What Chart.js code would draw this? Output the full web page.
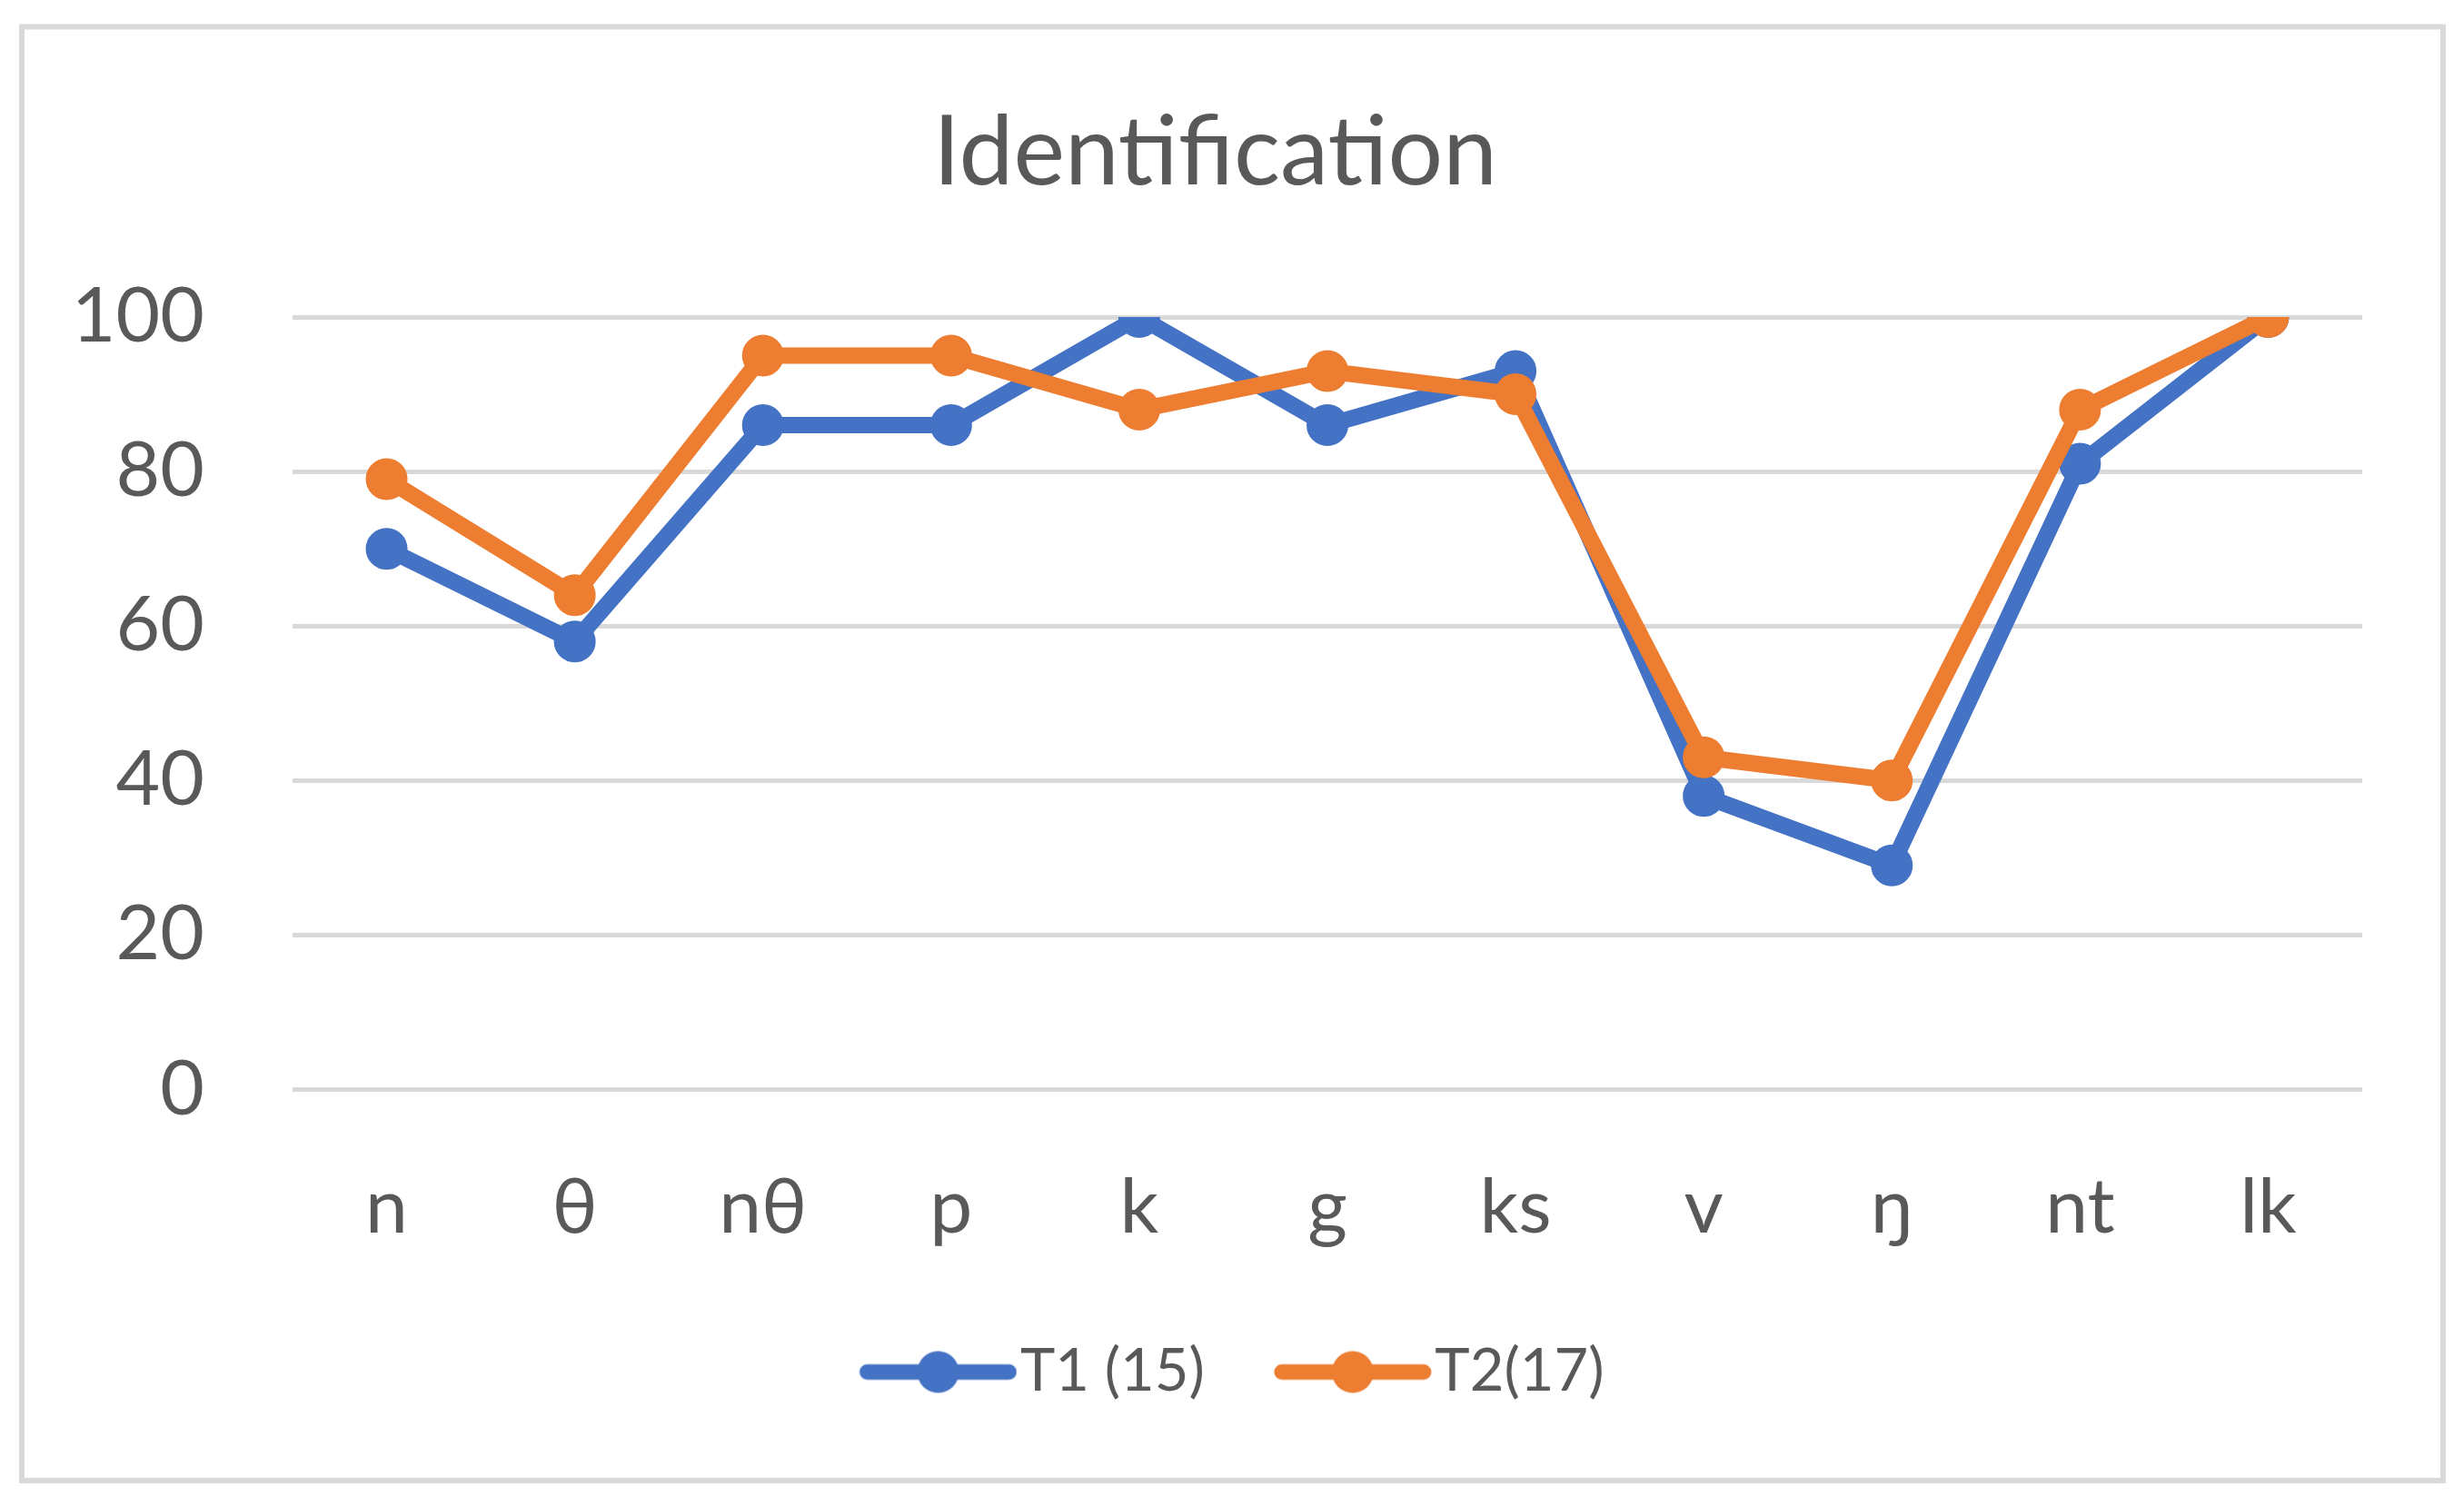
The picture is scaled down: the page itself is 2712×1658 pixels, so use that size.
<!DOCTYPE html>
<html lang="en">
<head>
    <meta charset="UTF-8">
    <script src="https://cdn.jsdelivr.net/npm/chart.js@4"></script>
    <title>Identification</title>
    <style>
        html, body { margin: 0; padding: 0; background: #fff; }
        #wrap { width: 2712px; height: 1658px; position: relative; }
    </style>
</head>
<body>
    <div id="wrap"><canvas id="chart"></canvas></div>

    <script>
        // data
        const categories = ['n', 'θ', 'nθ', 'p', 'k', 'g', 'ks', 'v', 'ŋ', 'nt', 'lk'];
        const t1Values = [70, 58, 86, 86, 100, 86, 93, 38, 29, 81, 100];
        const t2Values = [79, 64, 95, 95, 88, 93, 90, 43, 40, 88, 100];
        const seriesNames = ['T1 (15)', 'T2(17)'];
        const seriesColors = ['#4472C4', '#ED7D31'];
        const yTicks = [0, 20, 40, 60, 80, 100];

        const FONT = 'Lato, "Noto Sans", "DejaVu Sans", sans-serif';
        const TEXT = '#595959';
        const GRID = '#d9d9d9';

        const legendFont = 65;
        const iconW = 174;
        const shiftE = 65;   // blank room left of the key, nudges the legend right

        // excel-like legend key: thick line with a dot in the middle
        function lineIcon(color) {
            const c = document.createElement('canvas');
            c.width = iconW + shiftE;
            c.height = 50;
            const g = c.getContext('2d');
            g.translate(shiftE, 0);
            g.strokeStyle = color;
            g.lineWidth = 17;
            g.lineCap = 'round';
            g.beginPath();
            g.moveTo(9, 25);
            g.lineTo(iconW - 9, 25);
            g.stroke();
            g.fillStyle = color;
            g.beginPath();
            g.arc(iconW / 2, 25, 23, 0, Math.PI * 2);
            g.fill();
            return c;
        }
        const icons = seriesColors.map(lineIcon);

        const frame = {
            id: 'frame',
            beforeDraw(chart) {
                const ctx = chart.ctx;
                ctx.save();
                ctx.fillStyle = '#fff';
                ctx.fillRect(0, 0, chart.width, chart.height);
                ctx.strokeStyle = GRID;
                ctx.lineWidth = 6;
                ctx.strokeRect(24, 29.5, 2665, 1600.5);
                ctx.restore();
            }
        };

        new Chart(document.getElementById('chart'), {
            type: 'line',
            data: {
                labels: categories,
                datasets: [t1Values, t2Values].map((vals, i) => ({
                    label: seriesNames[i],
                    data: vals,
                    borderColor: seriesColors[i],
                    backgroundColor: seriesColors[i],
                    borderWidth: 18,
                    tension: 0,
                    pointRadius: 22,
                    pointBorderWidth: 2,
                    pointBackgroundColor: seriesColors[i],
                    pointBorderColor: seriesColors[i],
                    order: i === 0 ? 1 : 0
                }))
            },
            options: {
                responsive: true,
                maintainAspectRatio: false,
                devicePixelRatio: 1,
                animation: false,
                layout: {
                    padding: { left: 75, right: 112, top: 0, bottom: 105 }
                },
                plugins: {
                    title: {
                        display: true,
                        text: 'Identification',
                        color: TEXT,
                        font: { family: FONT, size: 107, weight: 'normal' },
                        padding: { top: 104, bottom: 116.6 }
                    },
                    legend: {
                        display: true,
                        position: 'bottom',
                        labels: {
                            usePointStyle: true,
                            pointStyleWidth: iconW - legendFont + 7 + shiftE,
                            padding: 105 - shiftE,
                            color: TEXT,
                            font: { family: FONT, size: legendFont },
                            generateLabels(chart) {
                                return chart.data.datasets.map((ds, i) => ({
                                    text: ds.label,
                                    pointStyle: icons[i],
                                    fillStyle: ds.borderColor,
                                    strokeStyle: ds.borderColor,
                                    lineWidth: 0,
                                    hidden: false,
                                    datasetIndex: i,
                                    fontColor: TEXT
                                }));
                            }
                        }
                    },
                    tooltip: { enabled: false }
                },
                scales: {
                    x: {
                        offset: true,
                        grid: { display: false, drawTicks: false },
                        border: { display: false },
                        ticks: {
                            color: TEXT,
                            padding: 80,
                            font: { family: FONT, size: 84 }
                        },
                        afterFit(scale) { scale.height = 173.5 + shiftE; }
                    },
                    y: {
                        min: 0,
                        max: 100,
                        afterBuildTicks(scale) {
                            scale.ticks = yTicks.map(v => ({ value: v }));
                        },
                        grid: { color: GRID, lineWidth: 5, drawTicks: false },
                        border: { display: false },
                        ticks: {
                            color: TEXT,
                            padding: 97,
                            font: { family: FONT, size: 84 }
                        },
                        afterFit(scale) { scale.width = 247; }
                    }
                }
            },
            plugins: [frame]
        });
    </script>
</body>
</html>
